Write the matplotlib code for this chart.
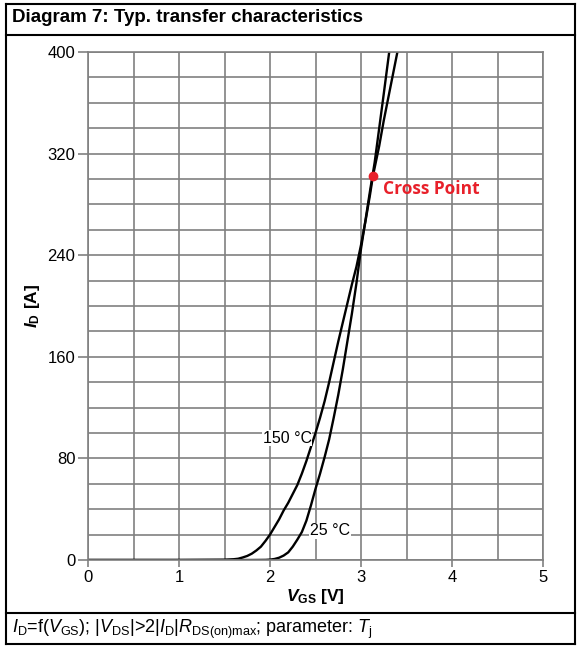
import matplotlib.pyplot as plt
from matplotlib.lines import Line2D
import numpy as np

plt.rcParams['font.family'] = ['Liberation Sans', 'DejaVu Sans']
plt.rcParams['mathtext.fontset'] = 'custom'
plt.rcParams['mathtext.rm'] = 'Liberation Sans'
plt.rcParams['mathtext.it'] = 'Liberation Sans:italic'
plt.rcParams['mathtext.bf'] = 'Liberation Sans:bold'
plt.rcParams['mathtext.bfit'] = 'Liberation Sans:bold:italic'

# curves
vgs_25 = [0, 1.0, 1.8, 1.95, 2.0, 2.05, 2.1, 2.15, 2.2, 2.25, 2.3, 2.35, 2.4,
          2.45, 2.5, 2.55, 2.6, 2.65, 2.7, 2.75, 2.8, 2.85, 2.9, 2.95, 3.0,
          3.05, 3.1, 3.15, 3.2, 3.25, 3.31]
id_25 = [0, 0, 0, 0.1, 0.3, 0.8, 1.8, 3.5, 6, 10.5, 16, 22, 31,
         43, 56, 68, 81, 95, 112, 130, 150, 172, 194, 218, 245,
         268, 291, 313, 340, 367, 400]
vgs_150 = [0, 1.0, 1.5, 1.6, 1.65, 1.7, 1.75, 1.8, 1.85, 1.9, 1.95, 2.0, 2.05,
           2.1, 2.15, 2.2, 2.25, 2.3, 2.35, 2.4, 2.45, 2.5, 2.55, 2.6, 2.65,
           2.7, 2.75, 2.8, 2.85, 2.9, 2.95, 3.0, 3.05, 3.1, 3.13, 3.2, 3.25,
           3.3, 3.35, 3.4]
id_150 = [0, 0, 0.2, 0.6, 1, 2, 3.2, 5, 7.5, 10.5, 15, 20, 26,
          32, 39, 45, 52, 59, 68, 78, 89, 100, 112, 125, 140,
          156, 172, 187, 202, 217, 231, 248, 267, 288, 302, 326, 346,
          364, 382, 400]
cross_v = 3.13
cross_i = 302

x_ticks = [0, 1, 2, 3, 4, 5]
y_ticks = [0, 80, 160, 240, 320, 400]

W, H = 579, 651
fig = plt.figure(figsize=(W / 100, H / 100), dpi=100)
ax = fig.add_axes([88 / W, 1 - 560 / H, (543 - 88) / W, (560 - 52) / H])

grey = '#808080'
ax.set_xlim(0, 5)
ax.set_ylim(0, 400)
ax.set_xticks(np.arange(0, 5.01, 0.5), minor=True)
ax.set_yticks(np.arange(0, 401, 20), minor=True)
ax.set_xticks(x_ticks)
ax.set_yticks(y_ticks)
ax.grid(True, which='both', color=grey, lw=1.2)
ax.tick_params(which='minor', length=0)
ax.tick_params(which='major', color=grey, width=1.2, labelsize=12, pad=2)
ax.tick_params(axis='y', length=7)
ax.tick_params(axis='x', length=5)
for s in ax.spines.values():
    s.set_color(grey)
    s.set_linewidth(1.2)
ax.set_axisbelow(True)

ax.plot(vgs_25, id_25, color='black', lw=1.7, solid_joinstyle='round')
ax.plot(vgs_150, id_150, color='black', lw=1.7, solid_joinstyle='round')

ax.text(2.19, 96, '150 °C', fontsize=11.5, ha='center', va='center',
        bbox=dict(facecolor='white', edgecolor='none', pad=0.5))
ax.text(2.66, 23, '25 °C', fontsize=11.5, ha='center', va='center',
        bbox=dict(facecolor='white', edgecolor='none', pad=0.5))

ax.plot([cross_v], [cross_i], 'o', color='#e8202a', ms=6, zorder=5)
ax.text(3.24, 292, 'Cross Point', color='#e8202a', fontsize=12.5,
        fontweight='bold', family=['Open Sans', 'DejaVu Sans'], va='center')

ax.set_xlabel(r'$\mathbfit{V}_{\mathbf{GS}}$ [V]', fontsize=12.5,
              fontweight='bold', labelpad=2)
ax.set_ylabel(r'$\mathbfit{I}_{\mathbf{D}}$ [A]', fontsize=12.5,
              fontweight='bold', labelpad=4)

# frame of the datasheet box
def hline(y, x0=6, x1=575):
    fig.add_artist(Line2D([x0 / W, x1 / W], [1 - y / H, 1 - y / H],
                          color='black', lw=1.5))

def vline(x, y0=4, y1=644):
    fig.add_artist(Line2D([x / W, x / W], [1 - y0 / H, 1 - y1 / H],
                          color='black', lw=1.5))

hline(4)
hline(35)
hline(613)
hline(644)
vline(6)
vline(575)

fig.text(12 / W, 1 - 17 / H, 'Diagram 7: Typ. transfer characteristics',
         fontsize=13.5, fontweight='bold', va='center')
fig.text(12 / W, 1 - 629 / H,
         r'$\mathit{I}_\mathrm{D}$=f($\mathit{V}_\mathrm{GS}$); '
         r'|$\mathit{V}_\mathrm{DS}$|>2|$\mathit{I}_\mathrm{D}$|'
         r'$\mathit{R}_\mathrm{DS(on)max}$; parameter: $\mathit{T}_\mathrm{j}$',
         fontsize=13, va='center')

fig.savefig('out.png', dpi=100)
